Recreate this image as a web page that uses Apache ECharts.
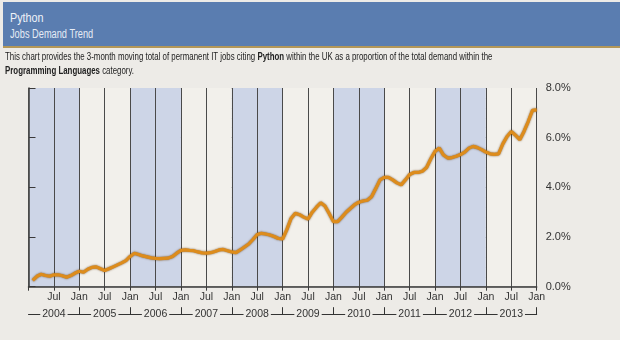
<!DOCTYPE html>
<html><head><meta charset="utf-8">
<script src="https://cdn.jsdelivr.net/npm/echarts@6/dist/echarts.min.js"></script>
<style>
html,body{margin:0;padding:0;background:#edebe7;width:620px;height:340px;overflow:hidden;font-family:"Liberation Sans",Arial,sans-serif;}
#hdr{position:absolute;left:3px;top:2px;width:617px;height:44px;background:#5a7db0;border-bottom:2px solid #b39758;}
#t1{position:absolute;left:7px;top:8px;font-size:13.5px;color:#eef2f8;white-space:nowrap;transform:scaleX(0.8);transform-origin:0 0;}
#t2{position:absolute;left:7px;top:25px;font-size:12px;color:#e6ecf5;white-space:nowrap;transform:scaleX(0.77);transform-origin:0 0;}
#desc{position:absolute;left:5px;top:50px;font-size:10.5px;line-height:13.5px;color:#222;white-space:nowrap;transform:scaleX(0.75);transform-origin:0 0;}
#chart{position:absolute;left:0;top:0;width:620px;height:340px;}
</style></head>
<body>
<div id="chart"></div>
<div id="hdr"><div id="t1">Python</div><div id="t2">Jobs Demand Trend</div></div>
<div id="desc">This chart provides the 3-month moving total of permanent IT jobs citing <b>Python</b> within the UK as a proportion of the total demand within the<br><b>Programming Languages</b> category.</div>
<script>
// Monthly share (%), Feb 2004 .. Jan 2014
const firstMonthIndex = 1; // months since Jan 2004
const share = [
  0.25,0.42,0.50,0.45,0.42,0.48,0.48,0.44,0.38,0.45,0.55,
  0.62,0.58,0.70,0.78,0.80,0.72,0.65,0.72,0.80,0.88,0.96,1.05,
  1.22,1.35,1.30,1.24,1.20,1.16,1.14,1.13,1.14,1.15,1.22,1.35,
  1.46,1.48,1.46,1.45,1.40,1.36,1.35,1.37,1.42,1.48,1.50,1.45,
  1.40,1.37,1.48,1.60,1.72,1.90,2.10,2.15,2.12,2.08,2.02,1.94,
  1.92,2.30,2.75,2.96,2.90,2.80,2.72,3.00,3.20,3.38,3.25,2.95,
  2.62,2.62,2.80,3.00,3.15,3.30,3.40,3.45,3.48,3.62,3.95,4.30,
  4.40,4.40,4.30,4.18,4.10,4.30,4.52,4.60,4.60,4.65,4.80,5.15,
  5.45,5.58,5.30,5.18,5.20,5.25,5.32,5.42,5.58,5.65,5.60,5.52,
  5.42,5.35,5.33,5.35,5.75,6.05,6.25,6.10,5.92,6.25,6.65,7.10,
  7.12
];
const years = [2004,2005,2006,2007,2008,2009,2010,2011,2012,2013];
const halfYearLabels = ['Jan','Jul'];
const yTicks = [0,2,4,6,8];

const points = share.map((v,i)=>[firstMonthIndex+i, v]);
const totalMonths = years.length*12;
const yearMid = years.map((y,i)=>i*12+6);
const yearEdges = years.map((y,i)=>(i+1)*12);
const fontFam = '"Liberation Sans", Arial, sans-serif';

const chart = echarts.init(document.getElementById('chart'), null, {renderer:'canvas'});
chart.setOption({
  backgroundColor:'#edebe7',
  animation:false,
  grid:{left:28.5, right:83.3, top:88, bottom:53.3, show:true, backgroundColor:'#f2f0eb', borderWidth:0},
  xAxis:[
    {type:'value', min:0, max:totalMonths, interval:6, position:'bottom',
     axisLine:{show:true, lineStyle:{color:'#3a3a3a', width:1.5}},
     axisTick:{show:true, length:4, lineStyle:{color:'#3a3a3a'}},
     axisLabel:{margin:5, fontSize:10.5, color:'#333', fontFamily:fontFam,
       formatter:v=> v===0 ? '' : halfYearLabels[(v%12===0)?0:1]},
     splitLine:{show:true, lineStyle:{color:'#4a4a4a', width:1}},
     z:3},
    {type:'value', min:0, max:totalMonths, interval:6, position:'bottom', offset:27.5,
     axisLine:{show:true, lineStyle:{color:'#333', width:1}},
     axisTick:{show:true, inside:true, length:7, customValues:yearEdges, lineStyle:{color:'#333'}},
     axisLabel:{customValues:yearMid, margin:0, verticalAlign:'middle', fontSize:10.5, color:'#333',
       fontFamily:fontFam, backgroundColor:'#edebe7', padding:[0,2],
       formatter:v=> String(years[Math.floor(v/12)])},
     splitLine:{show:false}},
    {type:'value', min:0, max:totalMonths, interval:12, position:'top', show:true,
     axisLine:{show:false}, axisTick:{show:false}, axisLabel:{show:false}, splitLine:{show:false},
     splitArea:{show:true, areaStyle:{color:['#cdd5e7','#f2f0eb']}}, z:0}
  ],
  yAxis:{type:'value', min:yTicks[0], max:yTicks[yTicks.length-1], interval:2, position:'right',
    axisLine:{show:true, lineStyle:{color:'#3a3a3a', width:1.5}},
    axisTick:{show:true, length:7, lineStyle:{color:'#3a3a3a'}},
    axisLabel:{margin:9, fontSize:11, color:'#333', fontFamily:fontFam, formatter:v=>v.toFixed(1)+'%'},
    splitLine:{show:true, lineStyle:{color:'#3a3a3a', width:1.2}},
    minorTick:{show:false, splitNumber:5},
    minorSplitLine:{show:true, lineStyle:{color:'#b5b5b5', width:1}}
  },
  series:[{
    type:'line', xAxisIndex:0, data:points, showSymbol:false, z:5,
    lineStyle:{color:'#dd8c1c', width:3.2, shadowColor:'rgba(100,55,0,0.8)', shadowBlur:2}
  }]
});
</script>
</body></html>
